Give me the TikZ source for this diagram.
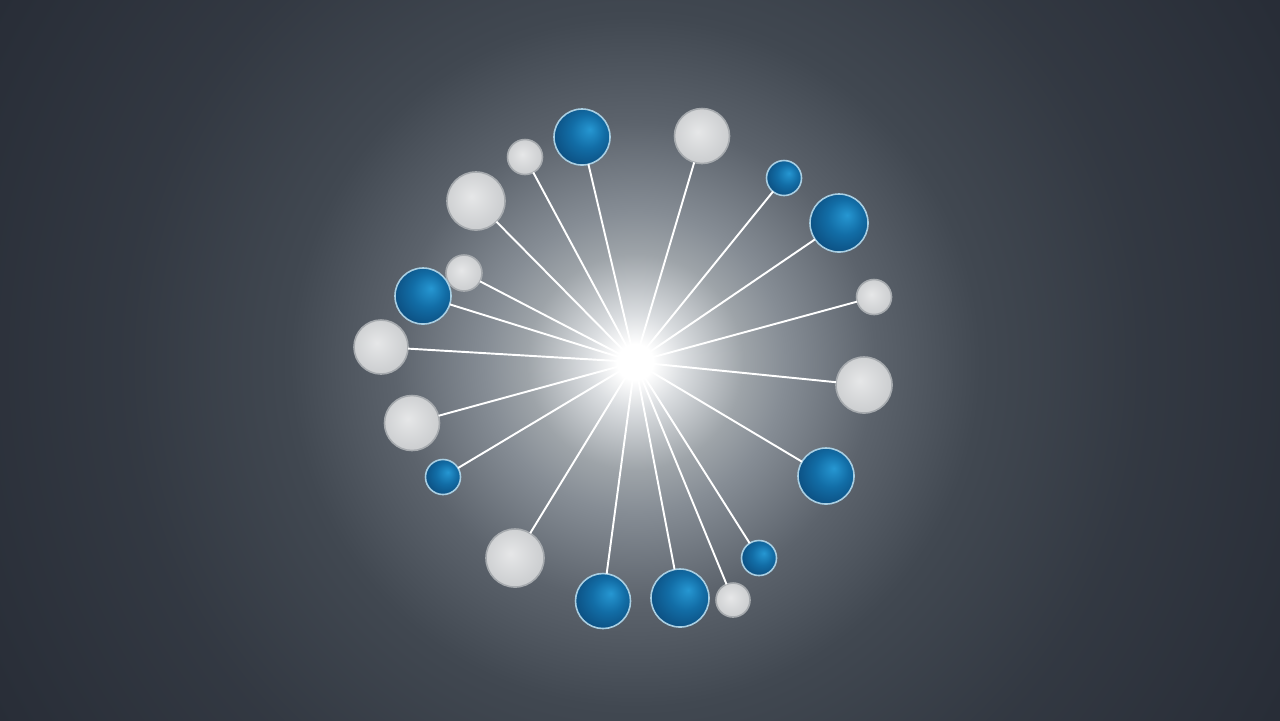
\documentclass[tikz,border=0pt]{standalone}
\usepackage{xcolor}
\usepackage{tikz}

\definecolor{bgdark}{HTML}{272C36}
\definecolor{bgmid}{HTML}{414851}
\definecolor{bglight}{HTML}{5C636C}
\definecolor{glowouter}{HTML}{868D95}
\definecolor{glowmid}{HTML}{9EA4A9}
\definecolor{glowinner}{HTML}{DADDE0}
\definecolor{bluedark}{HTML}{0B4A7B}
\definecolor{bluemid}{HTML}{126DA6}
\definecolor{bluelight}{HTML}{2697D2}
\definecolor{bluerim}{HTML}{A9CFE3}
\definecolor{greylight}{HTML}{E6E7E8}
\definecolor{greymid}{HTML}{CDCFD1}
\definecolor{greyrim}{HTML}{A6AAAE}

\pgfdeclareradialshading{backglow}{\pgfpointorigin}{
    color(0bp)=(white); color(0.6bp)=(white); color(1.6bp)=(glowinner);
    color(3.6bp)=(glowmid); color(5bp)=(glowouter); color(8bp)=(bglight);
    color(11.5bp)=(bgmid); color(17bp)=(bgdark!55!bgmid); color(25bp)=(bgdark);
    color(50bp)=(bgdark)}
\pgfdeclareradialshading{bluedisc}{\pgfpoint{7bp}{7bp}}{
    color(0bp)=(bluelight); color(15bp)=(bluemid); color(32bp)=(bluedark);
    color(50bp)=(bluedark)}
\pgfdeclareradialshading{greydisc}{\pgfpoint{-4bp}{4bp}}{
    color(0bp)=(greylight); color(25bp)=(greymid); color(50bp)=(greymid)}

\tikzset{
    disc/.style = {
        circle,
        inner sep  = 0pt,
        outer sep  = 0pt,
        line width = 0.45pt,
    },
    bluedot/.style = {disc, draw = bluerim, shading = bluedisc},
    greydot/.style = {disc, draw = greyrim, shading = greydisc},
    spoke/.style   = {draw = white, line width = 0.55pt},
}

\begin{document}
\begin{tikzpicture}[x = 0.01cm, y = -0.01cm]
        \useasboundingbox (0, 0) rectangle (1280, 720);
        \fill [bgdark] (0, 0) rectangle (1280, 720);
        \shade [shading = backglow] (635, 362) circle (7.5cm);

        \coordinate (c) at (635, 362);

        % top
        \node at (582, 137) (b1) [bluedot, minimum size = 0.56cm] {};
        \node at (702, 136) (g1) [greydot, minimum size = 0.55cm] {};
        \node at (525, 157) (g2) [greydot, minimum size = 0.35cm] {};
        \node at (784, 178) (b2) [bluedot, minimum size = 0.35cm] {};
        \node at (476, 201) (g3) [greydot, minimum size = 0.58cm] {};
        \node at (839, 223) (b3) [bluedot, minimum size = 0.58cm] {};

        % sides
        \node at (464, 273) (g4) [greydot, minimum size = 0.36cm] {};
        \node at (423, 296) (b4) [bluedot, minimum size = 0.56cm] {};
        \node at (874, 297) (g5) [greydot, minimum size = 0.35cm] {};
        \node at (381, 347) (g6) [greydot, minimum size = 0.54cm] {};
        \node at (864, 385) (g7) [greydot, minimum size = 0.56cm] {};
        \node at (412, 423) (g8) [greydot, minimum size = 0.55cm] {};
        \node at (443, 477) (b5) [bluedot, minimum size = 0.35cm] {};
        \node at (826, 476) (b6) [bluedot, minimum size = 0.56cm] {};

        % bottom
        \node at (515, 558) (g9)  [greydot, minimum size = 0.58cm] {};
        \node at (759, 558) (b7)  [bluedot, minimum size = 0.35cm] {};
        \node at (603, 601) (b8)  [bluedot, minimum size = 0.55cm] {};
        \node at (680, 598) (b9)  [bluedot, minimum size = 0.58cm] {};
        \node at (733, 600) (g10) [greydot, minimum size = 0.34cm] {};

        \draw [spoke] (c) -- (b1);
        \draw [spoke] (c) -- (g1);
        \draw [spoke] (c) -- (g2);
        \draw [spoke] (c) -- (b2);
        \draw [spoke] (c) -- (g3);
        \draw [spoke] (c) -- (b3);
        \draw [spoke] (c) -- (g4);
        \draw [spoke] (c) -- (b4);
        \draw [spoke] (c) -- (g5);
        \draw [spoke] (c) -- (g6);
        \draw [spoke] (c) -- (g7);
        \draw [spoke] (c) -- (g8);
        \draw [spoke] (c) -- (b5);
        \draw [spoke] (c) -- (b6);
        \draw [spoke] (c) -- (g9);
        \draw [spoke] (c) -- (b7);
        \draw [spoke] (c) -- (b8);
        \draw [spoke] (c) -- (b9);
        \draw [spoke] (c) -- (g10);

    \end{tikzpicture}
\end{document}
